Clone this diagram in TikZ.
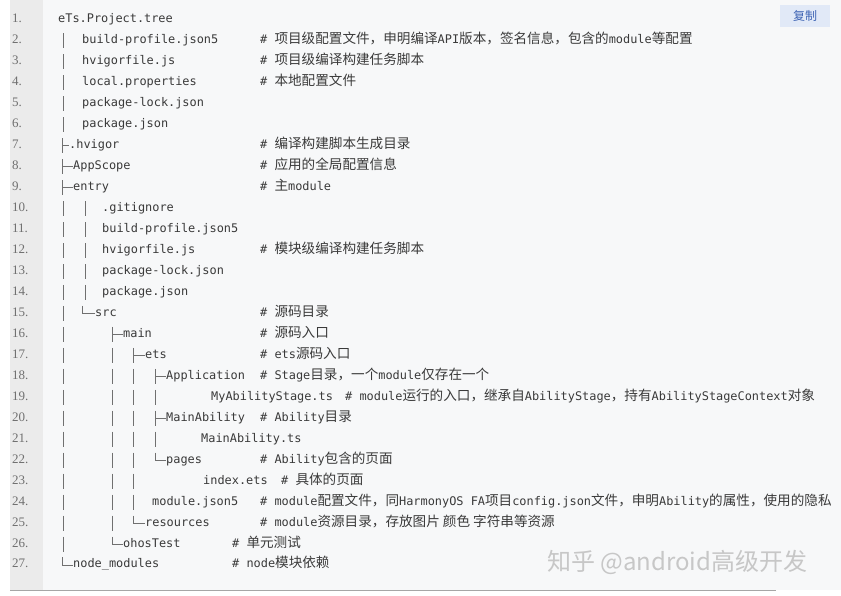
\documentclass[tikz,border=0pt]{standalone}
\usepackage{fontspec}
\setmonofont{DejaVu Sans Mono}
\newfontfamily\cjk{Noto Sans CJK SC}
\newfontfamily\numfont{Liberation Serif}
\newcommand\zh[1]{{\cjk\fontsize{13.6}{14}\selectfont #1}}
\definecolor{txtc}{HTML}{3A3A3A}
\definecolor{treec}{HTML}{707070}
\definecolor{gutter}{HTML}{EBEBEB}
\definecolor{codebg}{HTML}{F7F8F9}
\definecolor{btnbg}{HTML}{E1E9F7}
\definecolor{btntx}{HTML}{3E64B4}
\def\Y#1{(20+(#1-1)*20.96)}
\tikzset{
  txt/.style={anchor=west,inner sep=0pt,text height=9pt,text depth=3pt,text=txtc,font=\ttfamily\fontsize{11.9}{12}\selectfont},
  num/.style={anchor=west,inner sep=0pt,text height=9pt,text depth=3pt,text=treec,font=\numfont\fontsize{13}{13}\selectfont},
  tree/.style={draw=treec,line width=0.7pt}
}
\newcommand\nm[3]{\node[txt] (n#1) at (#2,{\Y{#1}}) {#3};}
\newcommand\cm[3]{\node[txt] (c#1) at (#2,{\Y{#1}}) {#3};}
\newcommand\pp[2]{\foreach \xx in {#2}{\draw[tree] (\xx,{\Y{#1}-7.5})--(\xx,{\Y{#1}+7.5});}}
\newcommand\tee[3]{\draw[tree] (#2,{\Y{#1}-7.5})--(#2,{\Y{#1}+7.5}) (#2,{\Y{#1}})--(#3,{\Y{#1}});}
\newcommand\corner[3]{\draw[tree] (#2,{\Y{#1}-7.5})--(#2,{\Y{#1}})--(#3,{\Y{#1}});}
\begin{document}
\begin{tikzpicture}[x=1pt,y=-1pt]
\useasboundingbox (0,0) rectangle (841,596);
\fill[white] (0,0) rectangle (841,596);
\fill[codebg] (10,0) rectangle (841,590);
\fill[gutter] (10,0) rectangle (43,590);
\draw[gray!70,line width=0.8pt] (10,590)--(776,590);
% copy button
\node[fill=btnbg,minimum width=50pt,minimum height=22pt,inner sep=0pt,text=btntx,font=\cjk\fontsize{12}{12}\selectfont] (copy) at (805,16) {复制};
% line numbers
\foreach \i in {1,...,27}{\node[num] (l\i) at (12,{\Y{\i}}) {\i.};}
\begin{scope}
\clip (43,0) rectangle (841,590);
\nm{1}{58}{eTs.Project.tree}
\pp{2}{63}\nm{2}{82}{build-profile.json5}\cm{2}{260}{\# \zh{项目级配置文件，申明编译}API\zh{版本，签名信息，包含的}module\zh{等配置}}
\pp{3}{63}\nm{3}{82}{hvigorfile.js}\cm{3}{260}{\# \zh{项目级编译构建任务脚本}}
\pp{4}{63}\nm{4}{82}{local.properties}\cm{4}{260}{\# \zh{本地配置文件}}
\pp{5}{63}\nm{5}{82}{package-lock.json}
\pp{6}{63}\nm{6}{82}{package.json}
\tee{7}{62}{69}\nm{7}{69}{.hvigor}\cm{7}{260}{\# \zh{编译构建脚本生成目录}}
\tee{8}{62}{73}\nm{8}{73}{AppScope}\cm{8}{260}{\# \zh{应用的全局配置信息}}
\tee{9}{62}{73}\nm{9}{73}{entry}\cm{9}{260}{\# \zh{主}module}
\pp{10}{63,85}\nm{10}{102}{.gitignore}
\pp{11}{63,85}\nm{11}{102}{build-profile.json5}
\pp{12}{63,85}\nm{12}{102}{hvigorfile.js}\cm{12}{260}{\# \zh{模块级编译构建任务脚本}}
\pp{13}{63,85}\nm{13}{102}{package-lock.json}
\pp{14}{63,85}\nm{14}{102}{package.json}
\pp{15}{63}\corner{15}{82}{95}\nm{15}{95}{src}\cm{15}{260}{\# \zh{源码目录}}
\pp{16}{63}\tee{16}{112}{123}\nm{16}{123}{main}\cm{16}{260}{\# \zh{源码入口}}
\pp{17}{63,112}\tee{17}{133}{145}\nm{17}{145}{ets}\cm{17}{260}{\# ets\zh{源码入口}}
\pp{18}{63,112,133}\tee{18}{155}{166}\nm{18}{166}{Application}\cm{18}{260}{\# Stage\zh{目录，一个}module\zh{仅存在一个}}
\pp{19}{63,112,133,155}\nm{19}{211}{MyAbilityStage.ts}\cm{19}{345}{\# module\zh{运行的入口，继承自}AbilityStage\zh{，持有}AbilityStageContext\zh{对象}}
\pp{20}{63,112,133}\tee{20}{155}{166}\nm{20}{166}{MainAbility}\cm{20}{260}{\# Ability\zh{目录}}
\pp{21}{63,112,133,155}\nm{21}{201}{MainAbility.ts}
\pp{22}{63,112,133}\corner{22}{155}{166}\nm{22}{166}{pages}\cm{22}{260}{\# Ability\zh{包含的页面}}
\pp{23}{63,112,133}\nm{23}{203}{index.ets}\cm{23}{281}{\# \zh{具体的页面}}
\pp{24}{63,112,133}\nm{24}{152}{module.json5}\cm{24}{260}{\# module\zh{配置文件，同}HarmonyOS FA\zh{项目}config.json\zh{文件，申明}Ability\zh{的属性，使用的隐私}}
\pp{25}{63,112}\corner{25}{133}{145}\nm{25}{145}{resources}\cm{25}{260}{\# module\zh{资源目录，存放图片 颜色 字符串等资源}}
\pp{26}{63}\corner{26}{112}{123}\nm{26}{123}{ohosTest}\cm{26}{232}{\# \zh{单元测试}}
\corner{27}{62}{73}\nm{27}{73}{node\_modules}\cm{27}{232}{\# node\zh{模块依赖}}
\end{scope}
\node[anchor=west,inner sep=0pt,text=black!22,font=\cjk\fontsize{24}{24}\selectfont] (wm) at (547,562) {知乎 @android高级开发};
\end{tikzpicture}
\end{document}
